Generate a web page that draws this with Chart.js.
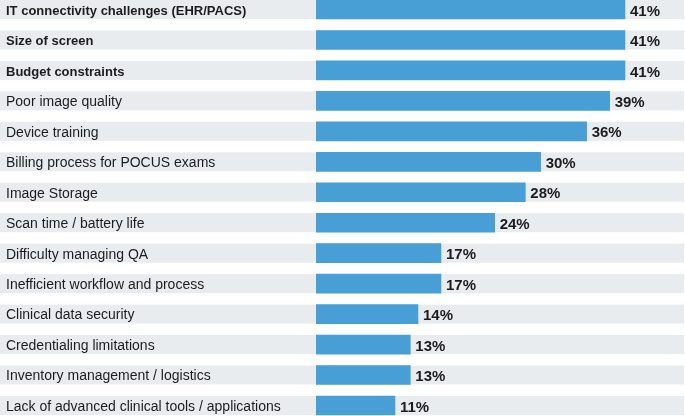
<!DOCTYPE html>
<html>
<head>
<meta charset="utf-8">
<script src="https://cdn.jsdelivr.net/npm/chart.js@4"></script>
<style>
  html, body { margin: 0; padding: 0; background: #fff; }
  #wrap { width: 685px; height: 416px; }
</style>
</head>
<body>
<div id="wrap"><canvas id="barChart"></canvas></div>
<script>
const labels = [
    'IT connectivity challenges (EHR/PACS)',
    'Size of screen',
    'Budget constraints',
    'Poor image quality',
    'Device training',
    'Billing process for POCUS exams',
    'Image Storage',
    'Scan time / battery life',
    'Difficulty managing QA',
    'Inefficient workflow and process',
    'Clinical data security',
    'Credentialing limitations',
    'Inventory management / logistics',
    'Lack of advanced clinical tools / applications'
]
const values = [41, 41, 41, 39, 36, 30, 28, 24, 17, 17, 14, 13, 13, 11]
const boldRows = [0, 1, 2]

const barBlue = '#479fd6'
const bandGray = '#e9ecef'

// grey row bands, full width, drawn before the axis labels
const rowBands = {
    id: 'rowBands',
    beforeDraw(chart) {
        const c = chart.ctx
        const y = chart.scales.y
        c.save()
        c.fillStyle = bandGray
        labels.forEach((l, i) => {
            const py = y.getPixelForValue(i)
            c.fillRect(0, py - 9.5, chart.chartArea.right, 19)
        })
        c.restore()
    }
}

// percent labels at the bar ends
const valueLabels = {
    id: 'valueLabels',
    afterDatasetsDraw(chart) {
        const c = chart.ctx
        const meta = chart.getDatasetMeta(0)
        c.save()
        c.font = 'bold 15px "Liberation Sans", Arial, sans-serif'
        c.fillStyle = '#1c1c1c'
        c.textBaseline = 'middle'
        c.textAlign = 'left'
        meta.data.forEach((bar, i) => {
            c.fillText(values[i] + '%', bar.x + 5, bar.y + 2)
        })
        c.restore()
    }
}

const ctx = document.getElementById('barChart').getContext('2d')

const config = {
    type: 'bar',
    data: {
        labels,
        datasets: [{
            data: values,
            backgroundColor: barBlue,
            borderWidth: 0,
            barThickness: 19,
            clip: { left: 0, top: 12, right: 12, bottom: 12 },
        }],
    },
    options: {
        indexAxis: 'y',
        responsive: true,
        maintainAspectRatio: false,
        animation: false,
        layout: { padding: { left: 6, right: 1, top: 9.5, bottom: 10.5 } },
        plugins: {
            legend: { display: false },
            tooltip: { enabled: false },
        },
        scales: {
            x: {
                display: false,
                min: 0.7,
                max: 48.7,
            },
            y: {
                offset: false,
                grid: { display: false },
                border: { display: false },
                afterFit(scale) { scale.width = 310 },
                ticks: {
                    crossAlign: 'far',
                    padding: 0,
                    labelOffset: 1.5,
                    autoSkip: false,
                    color: '#1c1c1c',
                    font: (c) => {
                        const bold = boldRows.includes(c.index)
                        return {
                            family: '"Liberation Sans", Arial, sans-serif',
                            size: bold ? 13 : 14,
                            weight: bold ? 'bold' : 'normal',
                        }
                    },
                },
            },
        },
    },
    plugins: [rowBands, valueLabels],
}

const myChart = new Chart(ctx, config)
</script>
</body>
</html>
